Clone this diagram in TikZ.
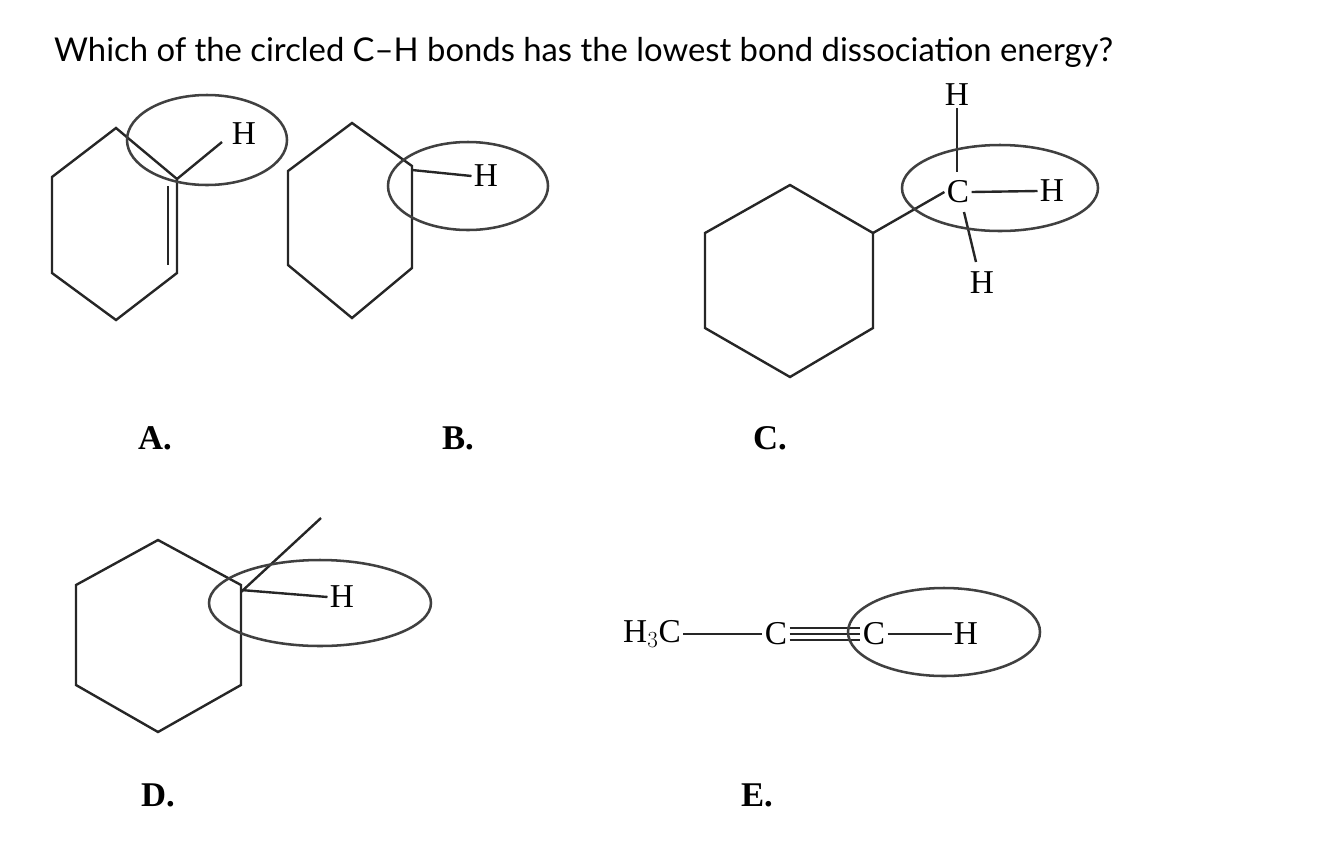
\documentclass[tikz,border=0pt]{standalone}
\usepackage{fontspec}
\setmainfont{Liberation Serif}
\newfontfamily\titlefont{Lato}
\begin{document}
\begin{tikzpicture}[x=0.75pt,y=-0.75pt,line width=1.7pt,
  atom/.style={inner sep=1pt,font=\fontsize{25}{25}\selectfont},
  lbl/.style={inner sep=0pt,font=\fontsize{26}{26}\selectfont\bfseries},
  ring/.style={line width=1.8pt,line join=miter,color=black!85},
  circ/.style={line width=1.9pt,color=black!75}]
\useasboundingbox (0,0) rectangle (1322,840);
\node[anchor=west,inner sep=0pt,font=\titlefont\fontsize{24.6}{25}\selectfont] (title) at (53,52) {Which of the circled C–H bonds has the lowest bond dissociation energy?};
% A
\draw[ring] (116,128) -- (177,179) -- (177,273) -- (116,320) -- (52,273) -- (52,177) -- cycle;
\coordinate (a1) at (168,186); \coordinate (a2) at (168,265);
\draw[ring] (a1) -- (a2);
\node[atom] (ha) at (244,134) {H};
\draw[ring] (177,179) -- (222,142);
\draw[circ] (207,140) ellipse (80 and 45);
\node[lbl] (la) at (155,438) {A.};
% B
\draw[ring] (352,123) -- (412,166) -- (412,268) -- (352,318) -- (288,265) -- (288,171) -- cycle;
\node[atom] (hb) at (486,176) {H};
\draw[ring] (412,170) -- (hb.west);
\draw[circ] (468,186) ellipse (80 and 44);
\node[lbl] (lb) at (458,438) {B.};
% C
\draw[ring] (790,185) -- (873,233) -- (873,328) -- (790,377) -- (705,328) -- (705,233) -- cycle;
\node[atom] (cc) at (958,192) {C};
\node[atom] (ht) at (957,95) {H};
\node[atom] (hr) at (1052,191) {H};
\node[atom] (hd) at (982,283) {H};
\draw[ring] (873,233) -- (cc.west);
\draw[ring] (ht.south) -- (957,172);
\draw[ring] (cc.east) -- (hr.west);
\draw[ring] (964,212) -- (976,262);
\draw[circ] (1000,188) ellipse (98 and 43);
\node[lbl] (lc) at (770,438) {C.};
% D
\draw[ring] (158,540) -- (241,585) -- (241,685) -- (158,732) -- (76,685) -- (76,585) -- cycle;
\draw[ring] (241,592) -- (321,518);
\node[atom] (hdd) at (342,597) {H};
\draw[ring] (241,590) -- (hdd.west);
\draw[circ] (320,603) ellipse (111 and 43);
\node[lbl] (ld) at (158,795) {D.};
% E
\node[atom] (e1) at (652,634) {H$_3$C};
\node[atom] (e2) at (776,634) {C};
\node[atom] (e3) at (874,634) {C};
\node[atom] (e4) at (966,634) {H};
\draw[ring] (e1.east) -- (e2.west);
\draw[ring] (e2.east) -- (e3.west);
\draw[ring] ([yshift=4.5pt]e2.east) -- ([yshift=4.5pt]e3.west);
\draw[ring] ([yshift=-4.5pt]e2.east) -- ([yshift=-4.5pt]e3.west);
\draw[ring] (e3.east) -- (e4.west);
\draw[circ] (944,632) ellipse (96 and 44);
\node[lbl] (le) at (757,795) {E.};
\end{tikzpicture}
\end{document}
